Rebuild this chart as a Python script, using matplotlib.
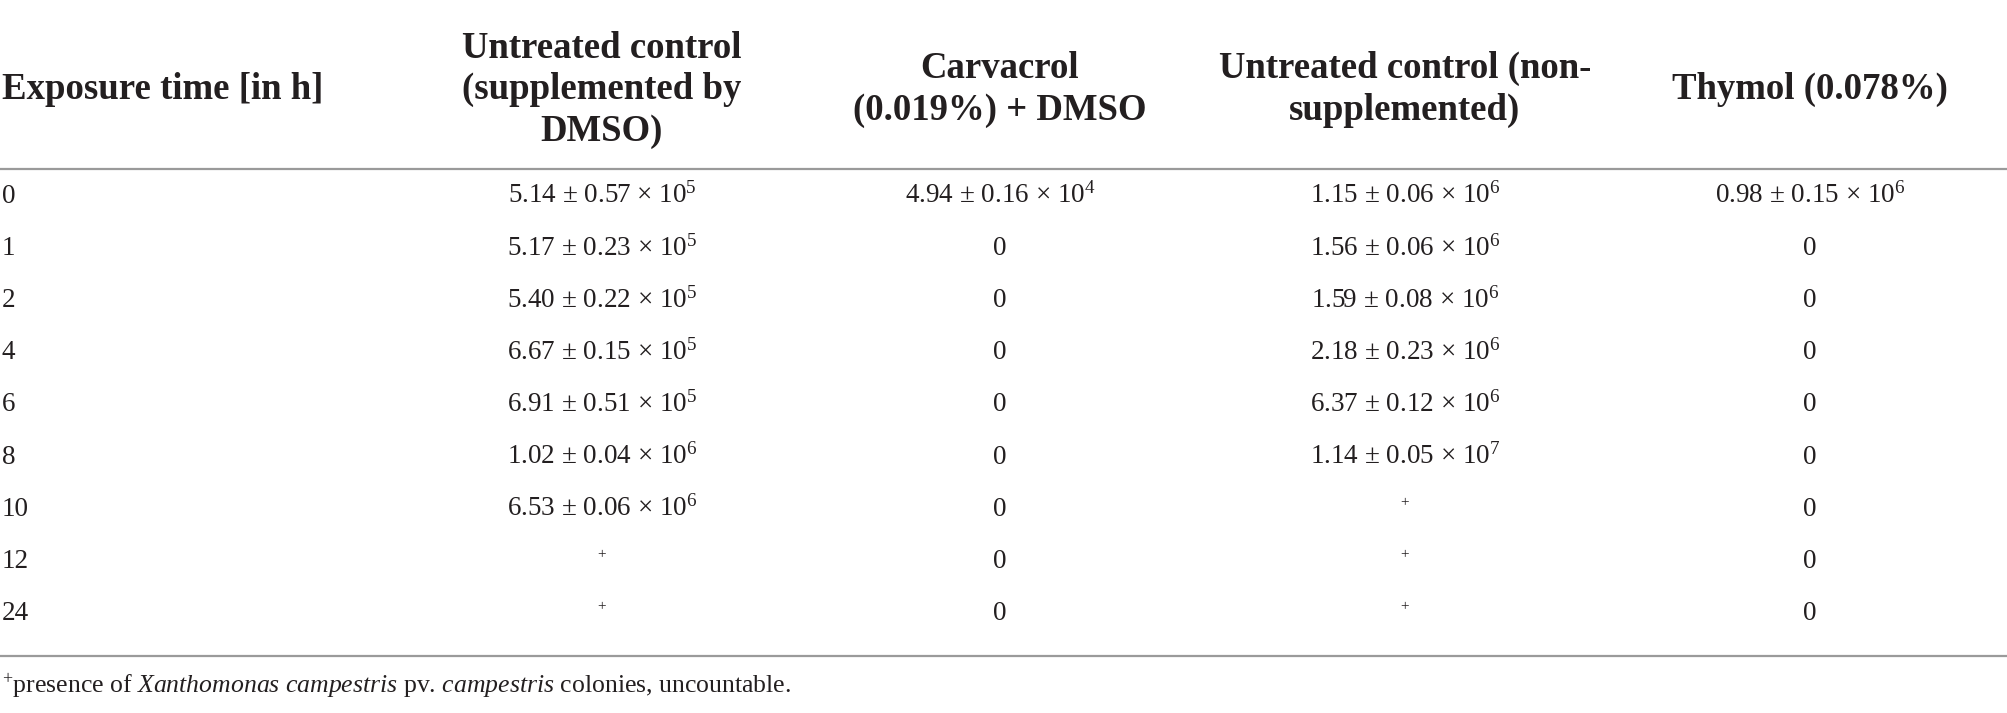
import matplotlib
matplotlib.use("Agg")
import matplotlib.pyplot as plt

plt.rcParams['font.family'] = ['Liberation Serif', 'DejaVu Serif']
plt.rcParams['mathtext.fontset'] = 'custom'
plt.rcParams['mathtext.rm'] = 'Liberation Serif'
plt.rcParams['mathtext.it'] = 'Liberation Serif:italic'
plt.rcParams['mathtext.bf'] = 'Liberation Serif:bold'

# table data (None = colonies present but uncountable)
times = ["0", "1", "2", "4", "6", "8", "10", "12", "24"]
dmso_mean = [5.14, 5.17, 5.40, 6.67, 6.91, 1.02, 6.53, None, None]
dmso_sd = [0.57, 0.23, 0.22, 0.15, 0.51, 0.04, 0.06, None, None]
dmso_exp = [5, 5, 5, 5, 5, 6, 6, None, None]
carv_mean = [4.94, 0, 0, 0, 0, 0, 0, 0, 0]
carv_sd = [0.16, 0, 0, 0, 0, 0, 0, 0, 0]
carv_exp = [4, 0, 0, 0, 0, 0, 0, 0, 0]
nonsup_mean = [1.15, 1.56, 1.59, 2.18, 6.37, 1.14, None, None, None]
nonsup_sd = [0.06, 0.06, 0.08, 0.23, 0.12, 0.05, None, None, None]
nonsup_exp = [6, 6, 6, 6, 6, 7, None, None, None]
thymol_mean = [0.98, 0, 0, 0, 0, 0, 0, 0, 0]
thymol_sd = [0.15, 0, 0, 0, 0, 0, 0, 0, 0]
thymol_exp = [6, 0, 0, 0, 0, 0, 0, 0, 0]

headers = [
    ["Exposure time [in h]"],
    ["Untreated control", "(supplemented by", "DMSO)"],
    ["Carvacrol", "(0.019%) + DMSO"],
    ["Untreated control (non-", "supplemented)"],
    ["Thymol (0.078%)"],
]
footnote = (r"$^{+}$presence of $\mathit{Xanthomonas\ campestris}$ pv. "
            r"$\mathit{campestris}$ colonies, uncountable.")

W, H = 2008, 713
fig = plt.figure(figsize=(W / 100, H / 100), dpi=100)
ax = fig.add_axes([0, 0, 1, 1])
ax.set_xlim(0, W)
ax.set_ylim(H, 0)
ax.axis('off')

ink = '#231f20'
col_x = [2, 602, 1000, 1405, 1810]
head_fs = 26.5
body_fs = 19.5

# header
for i, lines in enumerate(headers):
    n = len(lines)
    gap = 41.5
    first = 99 - gap * (n - 1) / 2
    for j, ln in enumerate(lines):
        ax.text(col_x[i], first + j * gap, ln, fontsize=head_fs, fontweight='bold',
                ha='left' if i == 0 else 'center', va='baseline', color=ink)

ax.axhline(169, color='#9a9a9a', lw=1.6)
ax.axhline(656, color='#9a9a9a', lw=1.6)


def cell(m, s, e):
    if m is None:
        return None
    if m == 0:
        return "0"
    return "%.2f ± %.2f × 10$^{%d}$" % (m, s, e)


cols = [(dmso_mean, dmso_sd, dmso_exp), (carv_mean, carv_sd, carv_exp),
        (nonsup_mean, nonsup_sd, nonsup_exp), (thymol_mean, thymol_sd, thymol_exp)]

for r, t in enumerate(times):
    yc = 195 + 52.1 * r
    ax.text(col_x[0], yc + 8, t, fontsize=body_fs, ha='left', va='baseline', color=ink)
    for c, (m, s, e) in enumerate(cols):
        txt = cell(m[r], s[r], e[r])
        if txt is None:
            ax.text(col_x[c + 1], yc - 5, "+", fontsize=11, ha='center', va='center', color=ink)
        else:
            ax.text(col_x[c + 1], yc + 8, txt, fontsize=body_fs, ha='center',
                    va='baseline', color=ink)

ax.text(2, 693, footnote, fontsize=18.5, ha='left', va='baseline', color=ink)

fig.savefig("out.png", dpi=100)
